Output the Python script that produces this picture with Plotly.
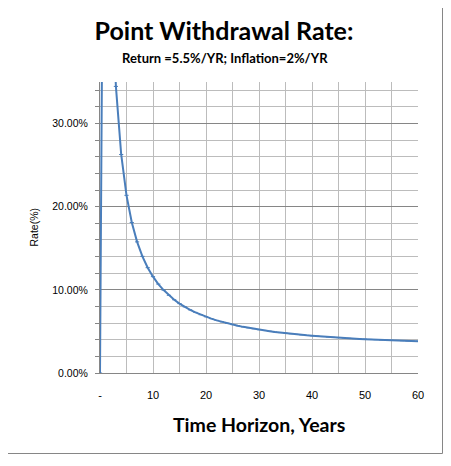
import plotly.graph_objects as go

# time horizon in years and the point withdrawal rate
years = list(range(0, 61))
rate = [
    0.0, 1.0, 0.5084, 0.3447, 0.2628, 0.2137, 0.1810, 0.1577, 0.1403, 0.1267,
    0.1159, 0.1070, 0.0997, 0.0934, 0.0881, 0.0835, 0.0795, 0.0760, 0.0729,
    0.0701, 0.0676, 0.0654, 0.0633, 0.0615, 0.0598, 0.0582, 0.0568, 0.0555,
    0.0543, 0.0532, 0.0521, 0.0512, 0.0503, 0.0494, 0.0486, 0.0479, 0.0472,
    0.0465, 0.0459, 0.0453, 0.0448, 0.0443, 0.0438, 0.0433, 0.0429, 0.0425,
    0.0421, 0.0417, 0.0414, 0.0410, 0.0407, 0.0404, 0.0401, 0.0398, 0.0396,
    0.0393, 0.0391, 0.0389, 0.0386, 0.0384, 0.0382,
]

x_tickvals = [0, 10, 20, 30, 40, 50, 60]
x_ticktext = ["-", "10", "20", "30", "40", "50", "60"]

BLUE = "#4a7ebb"
FONT = "Liberation Sans"
TITLE_FONT = "Lato"

# the page body has an 8px margin, so the figure is 8px smaller than the window
W, H = 443, 458

fig = go.Figure()
fig.add_trace(go.Scatter(
    x=years, y=rate, mode="lines+markers", name="Rate",
    line=dict(color=BLUE, width=2),
    marker=dict(symbol="line-ew", size=3, line=dict(color=BLUE, width=1)),
    hovertemplate="%{x} yrs: %{y:.2%}<extra></extra>",
))

fig.update_layout(
    width=W, height=H,
    margin=dict(l=92, r=33, t=74, b=93),
    paper_bgcolor="white", plot_bgcolor="white",
    showlegend=False,
    font=dict(family=FONT, size=11, color="black"),
    title=dict(text="<b>Point Withdrawal Rate:</b>",
               font=dict(family=TITLE_FONT, size=25, color="black"),
               x=216 / W, xanchor="center", xref="container",
               y=1 - 23 / H, yanchor="middle", yref="container"),
)

fig.update_xaxes(
    range=[0, 60], tickvals=x_tickvals, ticktext=x_ticktext,
    showgrid=True, gridcolor="#bcbcbc", gridwidth=1,
    minor=dict(dtick=5, showgrid=True, gridcolor="#bcbcbc", gridwidth=1),
    showline=True, linecolor="#868686", linewidth=1,
    zeroline=False, ticks="", ticklabelstandoff=12,
    tickfont=dict(family=FONT, size=11),
)
fig.update_yaxes(
    range=[0, 0.35], dtick=0.1, tickformat=".2%",
    showgrid=True, gridcolor="#868686", gridwidth=1,
    minor=dict(dtick=0.02, showgrid=True, gridcolor="#bcbcbc", gridwidth=1,
               ticks="outside", ticklen=4, tickcolor="#868686"),
    showline=True, linecolor="#868686", linewidth=1,
    zeroline=False, ticks="outside", ticklen=4, tickcolor="#868686",
    ticklabelstandoff=5,
    tickfont=dict(family=FONT, size=10.5),
)

fig.add_annotation(text="<b>Return =5.5%/YR; Inflation=2%/YR</b>",
                   xref="paper", yref="paper", x=(225 - 100) / 318,
                   y=(373 - 57.5) / 291, showarrow=False,
                   xanchor="center", yanchor="middle",
                   font=dict(family=TITLE_FONT, size=13, color="black"))
fig.add_annotation(text="<b>Time Horizon, Years</b>",
                   xref="paper", yref="paper", x=0.5, y=(373 - 424) / 291,
                   showarrow=False, xanchor="center", yanchor="middle",
                   font=dict(family=TITLE_FONT, size=19.5, color="black"))
fig.add_annotation(text="Rate(%)", textangle=-90,
                   xref="paper", yref="paper", x=(33 - 100) / 318, y=0.5,
                   showarrow=False, xanchor="center", yanchor="middle",
                   font=dict(family=FONT, size=10.5, color="black"))

# outer chart border
fig.add_shape(type="rect", xref="paper", yref="paper",
              x0=(5.5 - 100) / 318, x1=(442.5 - 100) / 318,
              y0=(373 - 453.5) / 291, y1=(373 - 5.5) / 291,
              line=dict(color="#868686", width=1), layer="below")

fig.write_html("out.html")
